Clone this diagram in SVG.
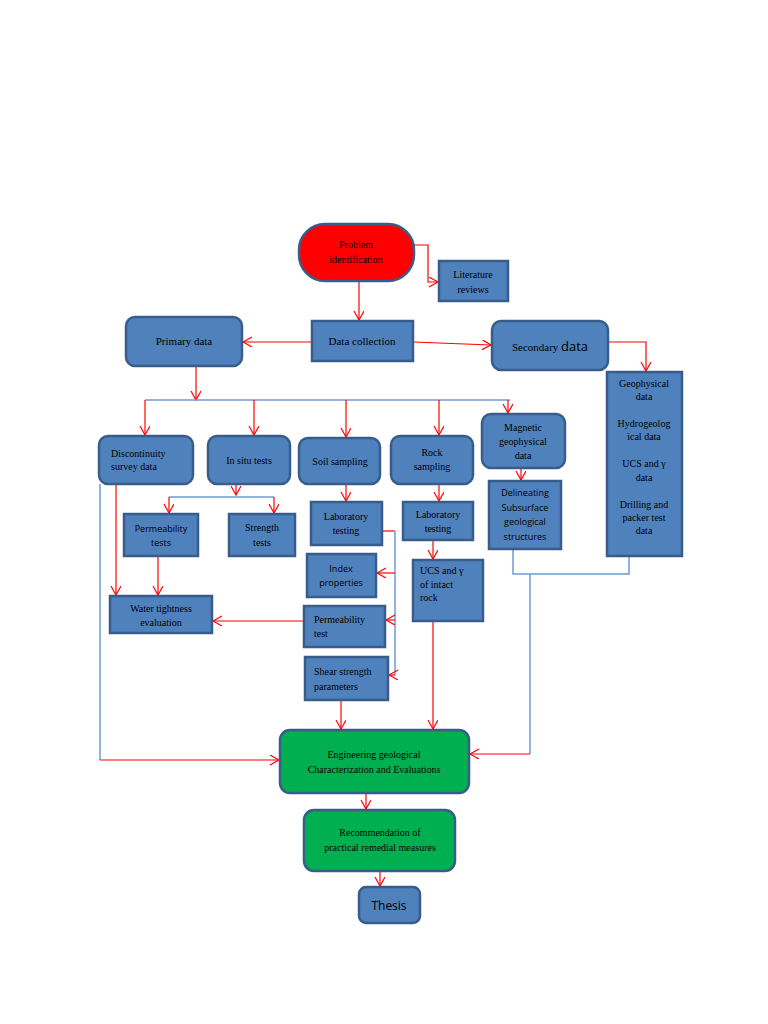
<svg xmlns="http://www.w3.org/2000/svg" width="768" height="1024" viewBox="0 0 768 1024">
<style>
.n{fill:#4f81bd;stroke:#385d8a;stroke-width:2.5}
.g{fill:#00b050;stroke:#385d8a;stroke-width:2.5}
.r{fill:#ff0000;stroke:#385d8a;stroke-width:2.5}
text{font-family:"Liberation Serif",serif;font-size:10px;fill:#000;text-anchor:middle}
.s{font-family:"Open Sans","Liberation Sans",sans-serif;font-size:9px}
.a{stroke:#ff0000;fill:none;stroke-width:1.2;marker-end:url(#ar)}
.l{stroke:#ff0000;fill:none;stroke-width:1.2}
.b{stroke:#6f9bd1;fill:none;stroke-width:1.5}
</style>
<defs><marker id="ar" markerWidth="12" markerHeight="12" refX="10" refY="5" orient="auto" markerUnits="userSpaceOnUse"><path d="M1,0 L10,5 L1,10" fill="none" stroke="#ff0000" stroke-width="1.2"/></marker></defs>
<rect width="768" height="1024" fill="#fff"/>
<g id="connectors">
<path class="a" d="M414,245 H428 V282 H438"/>
<path class="a" d="M359,281 V320"/>
<path class="a" d="M312,342 H243"/>
<path class="a" d="M413,342 L491,345"/>
<path class="a" d="M608,342 H646 V371"/>
<path class="a" d="M196,366 V400"/>
<path class="b" d="M145,400 H510"/>
<path class="a" d="M145,400 V435"/><path class="a" d="M254,400 V435"/><path class="a" d="M346,400 V437"/><path class="a" d="M439,400 V435"/><path class="a" d="M508,400 V413"/>
<path class="a" d="M236,484 V495"/>
<path class="b" d="M169,497 H274"/>
<path class="a" d="M169,497 V513"/><path class="a" d="M274,497 V513"/>
<path class="a" d="M116,484 V595"/><path class="a" d="M158,556 V595"/>
<path class="b" d="M100,484 V760"/><path class="a" d="M100,760 H279"/>
<path class="a" d="M346,484 V501"/>
<path class="l" d="M382,531 H395"/>
<path class="b" d="M395,531 V675"/>
<path class="a" d="M395,573 H377"/><path class="a" d="M395,620 H386"/><path class="a" d="M395,675 H389"/>
<path class="a" d="M304,621 H213"/>
<path class="a" d="M341,700 V729"/>
<path class="a" d="M439,484 V501"/><path class="a" d="M433,540 V559"/><path class="a" d="M433,621 V729"/>
<path class="a" d="M521,468 V480"/>
<path class="b" d="M513,549 V574 H629 V556 M530,574 V754"/>
<path class="a" d="M530,754 H470"/>
<path class="a" d="M366,793 V809"/><path class="a" d="M380,871 V886"/>
</g>
<g id="problem"><rect class="r" x="299" y="224" width="115" height="57" rx="26"/><text x="356" y="248">Problem</text><text x="356" y="263">identification</text></g>
<g id="literature"><rect class="n" x="439" y="261" width="69" height="40"/><text x="473" y="278">Literature</text><text x="473" y="293">reviews</text></g>
<g id="datacollection"><rect class="n" x="312" y="321" width="101" height="40"/><text x="362" y="345" style="font-size:11px">Data collection</text></g>
<g id="primary"><rect class="n" x="126" y="317" width="116" height="49" rx="9"/><text x="184" y="345" style="font-size:11px">Primary data</text></g>
<g id="secondary"><rect class="n" x="492" y="321" width="116" height="49" rx="9"/><text x="550" y="351" style="font-size:11px">Secondary <tspan class="s" style="font-size:13px">data</tspan></text></g>
<g id="geophysical"><rect class="n" x="607" y="372" width="75" height="184"/>
<text x="644" y="387">Geophysical</text><text x="644" y="400">data</text>
<text x="644" y="427">Hydrogeolog</text><text x="644" y="440">ical data</text>
<text x="644" y="467">UCS and γ</text><text x="644" y="481">data</text>
<text x="644" y="508">Drilling and</text><text x="644" y="521">packer test</text><text x="644" y="534">data</text></g>
<g id="discontinuity"><rect class="n" x="99" y="436" width="94" height="48" rx="9"/><text x="111" y="457" style="text-anchor:start">Discontinuity</text><text x="111" y="470" style="text-anchor:start">survey   data</text></g>
<g id="insitu"><rect class="n" x="208" y="436" width="82" height="48" rx="9"/><text x="249" y="464">In situ tests</text></g>
<g id="soil"><rect class="n" x="299" y="438" width="81" height="46" rx="9"/><text x="340" y="465">Soil sampling</text></g>
<g id="rock"><rect class="n" x="391" y="436" width="82" height="48" rx="9"/><text x="432" y="456">Rock</text><text x="432" y="470">sampling</text></g>
<g id="magnetic"><rect class="n" x="482" y="414" width="83" height="54" rx="9"/><text x="523" y="431">Magnetic</text><text x="523" y="445">geophysical</text><text x="523" y="459">data</text></g>
<g id="permtests"><rect class="n" x="124" y="514" width="74" height="42"/><text class="s" x="161" y="532">Permeability</text><text class="s" x="161" y="546">tests</text></g>
<g id="strength"><rect class="n" x="229" y="514" width="66" height="42"/><text x="262" y="531">Strength</text><text x="262" y="546">tests</text></g>
<g id="soillab"><rect class="n" x="311" y="502" width="71" height="43"/><text x="346" y="520">Laboratory</text><text x="346" y="534">testing</text></g>
<g id="rocklab"><rect class="n" x="403" y="502" width="70" height="38"/><text x="438" y="518">Laboratory</text><text x="438" y="532">testing</text></g>
<g id="delineating"><rect class="n" x="489" y="481" width="72" height="68"/><text class="s" x="525" y="496">Delineating</text><text class="s" x="525" y="511">Subsurface</text><text class="s" x="525" y="525">geological</text><text class="s" x="525" y="540">structures</text></g>
<g id="index"><rect class="n" x="307" y="554" width="69" height="43"/><text class="s" x="341" y="572">Index</text><text class="s" x="341" y="586">properties</text></g>
<g id="ucs"><rect class="n" x="413" y="560" width="70" height="61"/><text x="420" y="574" style="text-anchor:start">UCS and γ</text><text x="420" y="588" style="text-anchor:start">of intact</text><text x="420" y="601" style="text-anchor:start">rock</text></g>
<g id="water"><rect class="n" x="110" y="596" width="102" height="37"/><text x="161" y="612">Water tightness</text><text x="161" y="626">evaluation</text></g>
<g id="permtest"><rect class="n" x="304" y="606" width="81" height="41"/><text x="314" y="623" style="text-anchor:start">Permeability</text><text x="314" y="637" style="text-anchor:start">test</text></g>
<g id="shear"><rect class="n" x="305" y="657" width="83" height="43"/><text x="314" y="675" style="text-anchor:start">Shear strength</text><text x="314" y="690" style="text-anchor:start">parameters</text></g>
<g id="engineering"><rect class="g" x="280" y="730" width="189" height="63" rx="10"/><text x="374" y="758">Engineering geological</text><text x="374" y="773">Characterization and Evaluations</text></g>
<g id="recommendation"><rect class="g" x="304" y="810" width="151" height="61" rx="10"/><text x="380" y="836">Recommendation of</text><text x="380" y="851">practical remedial measures</text></g>
<g id="thesis"><rect class="n" x="359" y="887" width="61" height="36" rx="7"/><text class="s" x="389" y="910" style="font-size:12px">Thesis</text></g>
</svg>
